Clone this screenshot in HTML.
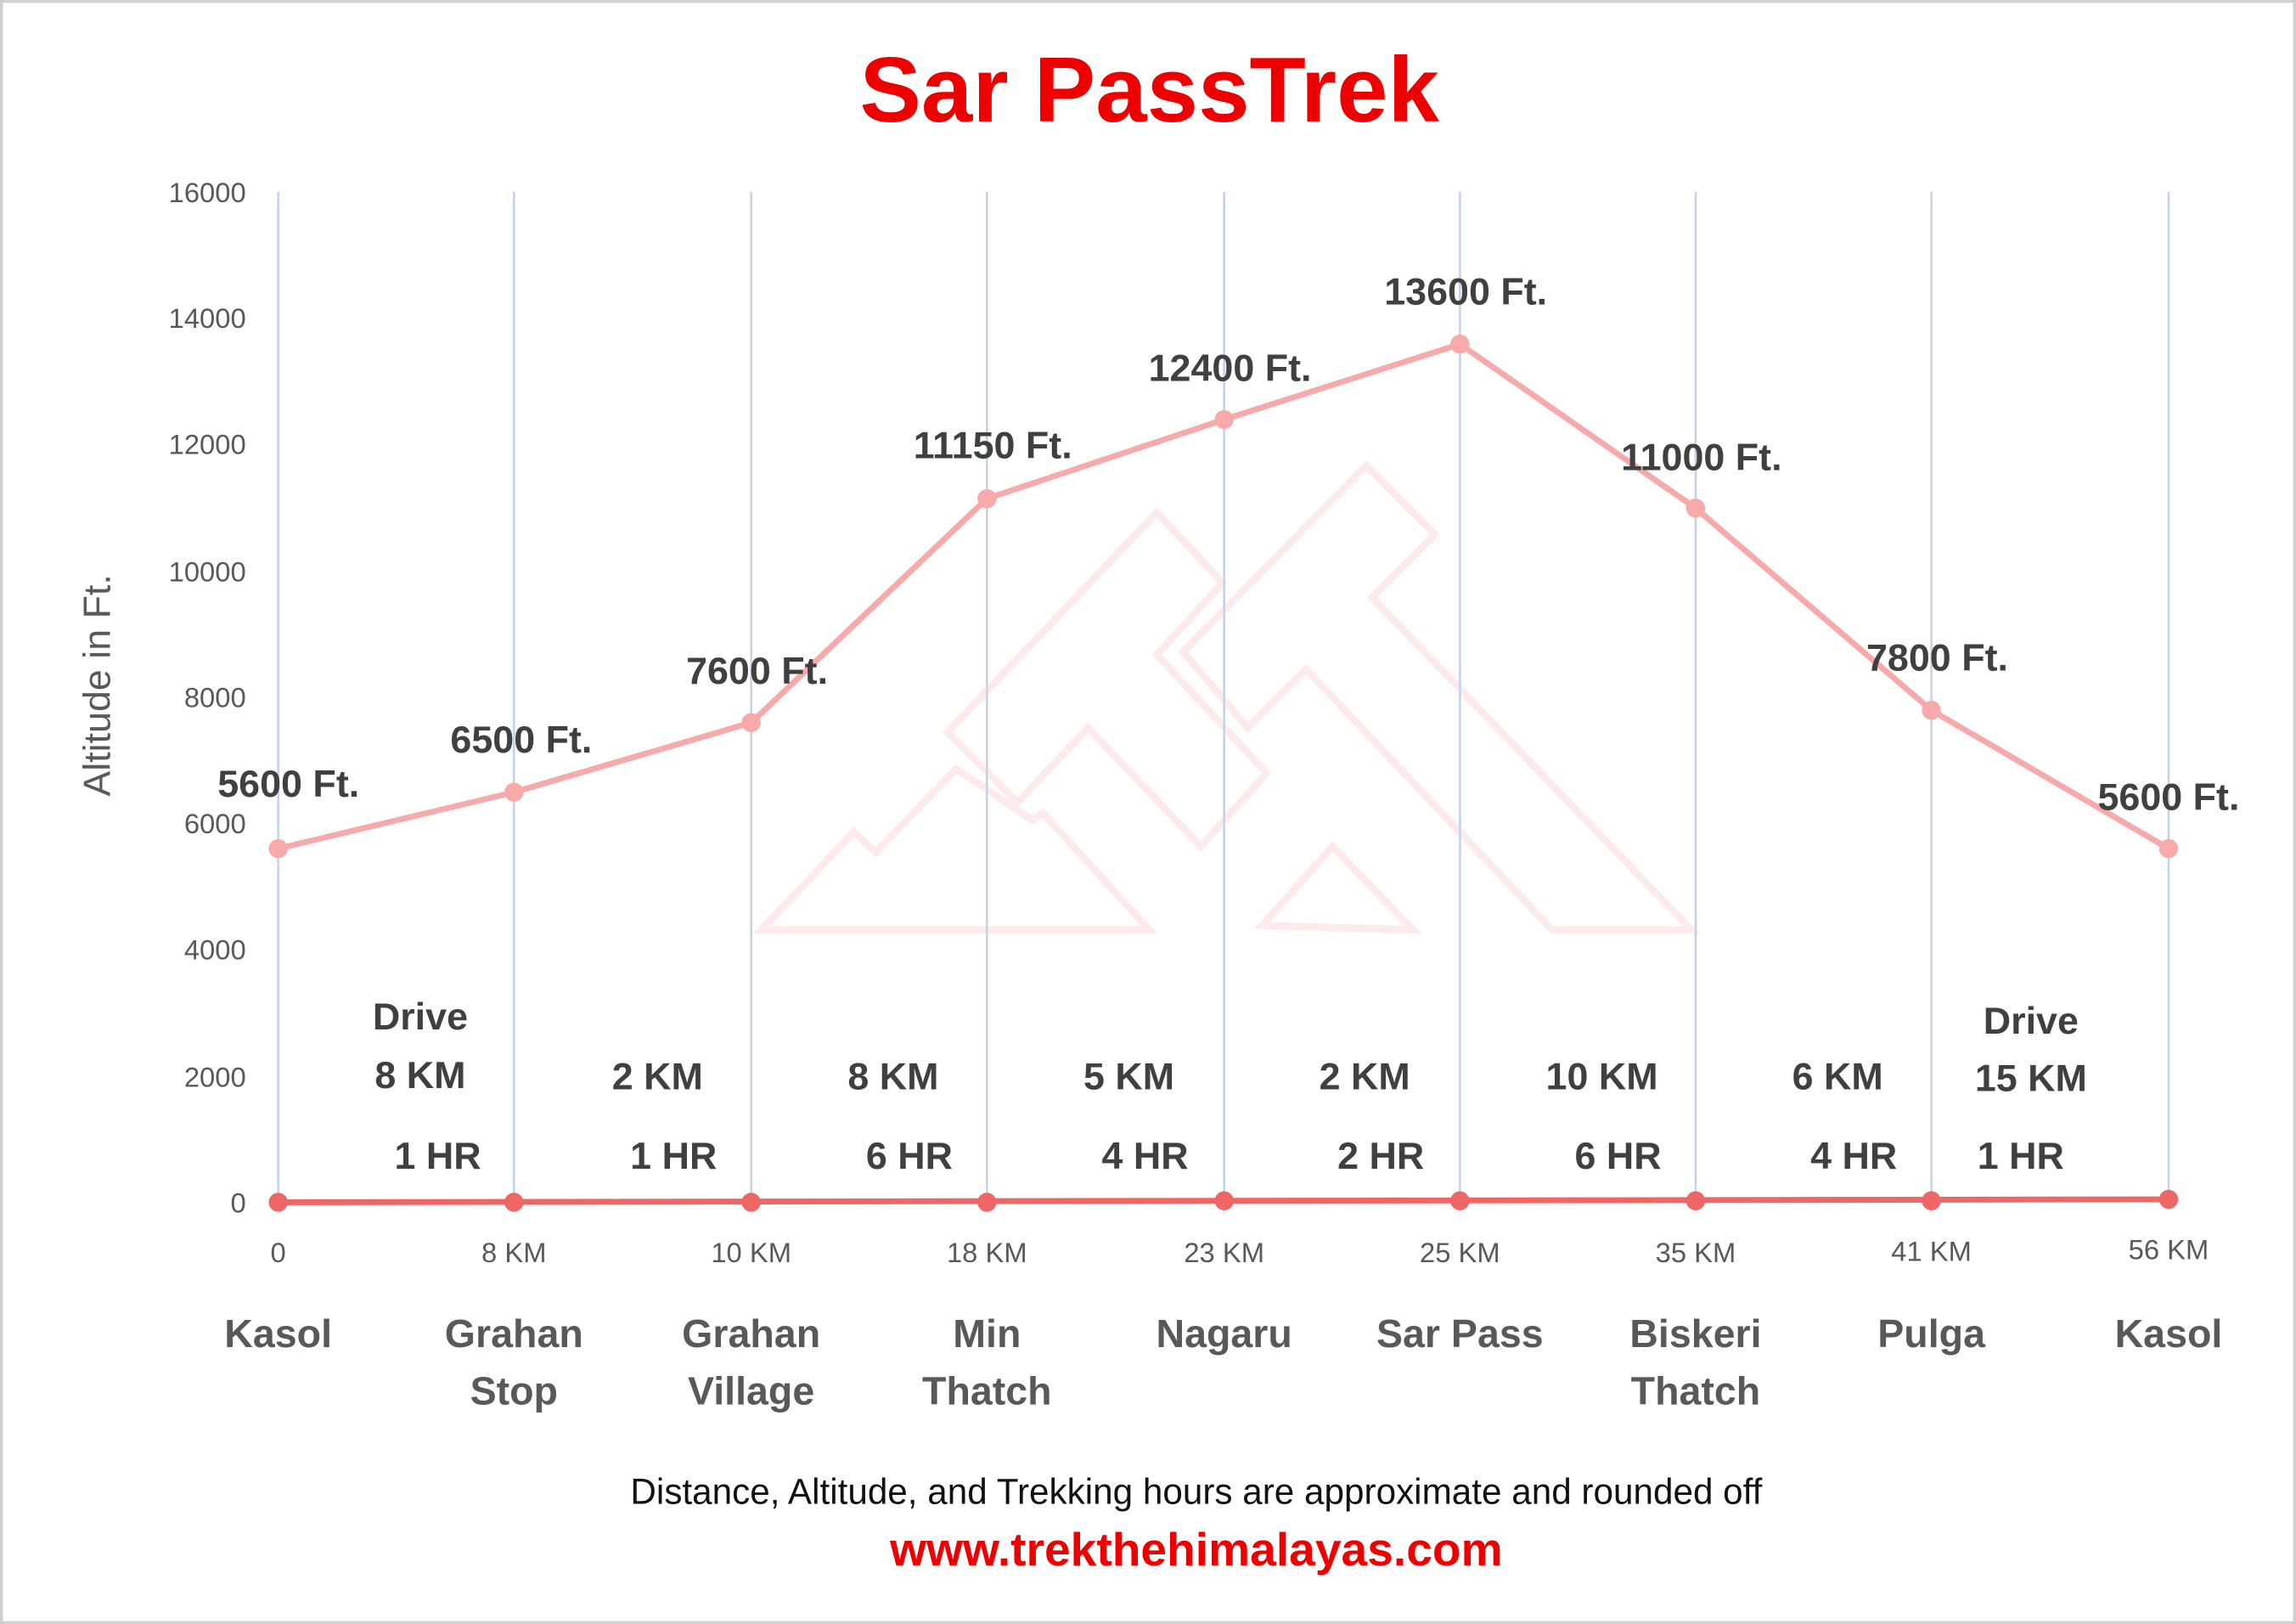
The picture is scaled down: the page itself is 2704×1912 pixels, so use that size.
<!DOCTYPE html>
<html><head><meta charset="utf-8"><style>
html,body{margin:0;padding:0;background:#fff;}
svg{display:block;}
text{font-family:"Liberation Sans","DejaVu Sans",sans-serif;}
</style></head><body>
<svg width="2704" height="1912" viewBox="0 0 1568 1109" preserveAspectRatio="none" xmlns="http://www.w3.org/2000/svg">
<rect x="1" y="1" width="1566" height="1107" fill="#fff" stroke="#d0d0d0" stroke-width="2"/>
<text x="785" y="83" text-anchor="middle" font-size="63" font-weight="bold" fill="#ee0000">Sar PassTrek</text>
<!-- watermark -->
<g fill="none" stroke="#fdeaea" stroke-width="5" stroke-linejoin="miter">
<polygon points="520,635 583,568 598,582 653,525 705,560 712,555 785,635"/>
<polygon points="647,500 790,350 835,398 790,447 865,528 820,578 743,497 695,548"/>
<polygon points="808,445 933,318 980,365 937,408 1155,635 1060,635 892,457 852,497"/>
<polygon points="862,632 910,578 965,635"/>
</g>
<!-- vertical grid -->
<g stroke="#c5d3e4" stroke-width="1.5">
<line x1="190" y1="131" x2="190" y2="821"/><line x1="351" y1="131" x2="351" y2="821"/>
<line x1="513" y1="131" x2="513" y2="821"/><line x1="674" y1="131" x2="674" y2="821"/>
<line x1="836" y1="131" x2="836" y2="821"/><line x1="997" y1="131" x2="997" y2="821"/>
<line x1="1158" y1="131" x2="1158" y2="821"/><line x1="1319" y1="131" x2="1319" y2="821"/>
<line x1="1481" y1="131" x2="1481" y2="821"/>
</g>
<!-- y ticks -->
<g font-size="19" fill="#595959" text-anchor="end">
<text x="168" y="138">16000</text><text x="168" y="224">14000</text><text x="168" y="310">12000</text>
<text x="168" y="397">10000</text><text x="168" y="483">8000</text><text x="168" y="569">6000</text>
<text x="168" y="655">4000</text><text x="168" y="742">2000</text><text x="168" y="828">0</text>
</g>
<text transform="translate(75,468) rotate(-90)" text-anchor="middle" font-size="26" fill="#595959">Altitude in Ft.</text>
<!-- altitude line -->
<polyline fill="none" stroke="#f8aaaa" stroke-width="4" points="190,579.5 351,541 513,493.5 674,340.5 836,286.5 997,235 1158,347 1319,485 1481,579.5"/>
<g fill="#f8aaaa">
<circle cx="190" cy="579.5" r="6.5"/><circle cx="351" cy="541" r="6.5"/><circle cx="513" cy="493.5" r="6.5"/>
<circle cx="674" cy="340.5" r="6.5"/><circle cx="836" cy="286.5" r="6.5"/><circle cx="997" cy="235" r="6.5"/>
<circle cx="1158" cy="347" r="6.5"/><circle cx="1319" cy="485" r="6.5"/><circle cx="1481" cy="579.5" r="6.5"/>
</g>
<!-- bottom line -->
<line x1="190" y1="821" x2="1481" y2="819" stroke="#ee6666" stroke-width="4"/>
<g fill="#ee6666">
<circle cx="190" cy="821" r="6.5"/><circle cx="351" cy="821" r="6.5"/><circle cx="513" cy="821" r="6.5"/>
<circle cx="674" cy="821" r="6.5"/><circle cx="836" cy="820" r="6.5"/><circle cx="997" cy="820" r="6.5"/>
<circle cx="1158" cy="820" r="6.5"/><circle cx="1319" cy="820" r="6.5"/><circle cx="1481" cy="819" r="6.5"/>
</g>
<!-- data labels -->
<g font-size="26" font-weight="bold" fill="#404040" text-anchor="middle">
<text x="197" y="544">5600 Ft.</text><text x="356" y="514">6500 Ft.</text><text x="517" y="467">7600 Ft.</text>
<text x="678" y="313">11150 Ft.</text><text x="840" y="260">12400 Ft.</text><text x="1001" y="208">13600 Ft.</text>
<text x="1162" y="321">11000 Ft.</text><text x="1323" y="458">7800 Ft.</text><text x="1481" y="553">5600 Ft.</text>
</g>
<!-- segment labels -->
<g font-size="26" font-weight="bold" fill="#404040" text-anchor="middle">
<text x="287" y="703">Drive</text><text x="287" y="743">8 KM</text><text x="299" y="798">1 HR</text>
<text x="449" y="744">2 KM</text><text x="460" y="798">1 HR</text>
<text x="610" y="744">8 KM</text><text x="621" y="798">6 HR</text>
<text x="771" y="744">5 KM</text><text x="782" y="798">4 HR</text>
<text x="932" y="744">2 KM</text><text x="943" y="798">2 HR</text>
<text x="1094" y="744">10 KM</text><text x="1105" y="798">6 HR</text>
<text x="1255" y="744">6 KM</text><text x="1266" y="798">4 HR</text>
<text x="1387" y="706">Drive</text><text x="1387" y="745">15 KM</text><text x="1380" y="798">1 HR</text>
</g>
<!-- km labels -->
<g font-size="19" fill="#595959" text-anchor="middle">
<text x="190" y="862">0</text><text x="351" y="862">8 KM</text><text x="513" y="862">10 KM</text>
<text x="674" y="862">18 KM</text><text x="836" y="862">23 KM</text><text x="997" y="862">25 KM</text>
<text x="1158" y="862">35 KM</text><text x="1319" y="861">41 KM</text><text x="1481" y="860">56 KM</text>
</g>
<g font-size="27" font-weight="bold" fill="#595959" text-anchor="middle">
<text x="190" y="920">Kasol</text>
<text x="351" y="920">Grahan</text><text x="351" y="959">Stop</text>
<text x="513" y="920">Grahan</text><text x="513" y="959">Village</text>
<text x="674" y="920">Min</text><text x="674" y="959">Thatch</text>
<text x="836" y="920">Nagaru</text>
<text x="997" y="920">Sar Pass</text>
<text x="1158" y="920">Biskeri</text><text x="1158" y="959">Thatch</text>
<text x="1319" y="920">Pulga</text>
<text x="1481" y="920">Kasol</text>
</g>
<text x="817" y="1027" text-anchor="middle" font-size="24.5" fill="#111">Distance, Altitude, and Trekking hours are approximate and rounded off</text>
<text x="817" y="1069" text-anchor="middle" font-size="32" font-weight="bold" fill="#ee0000">www.trekthehimalayas.com</text>
</svg>
</body></html>
